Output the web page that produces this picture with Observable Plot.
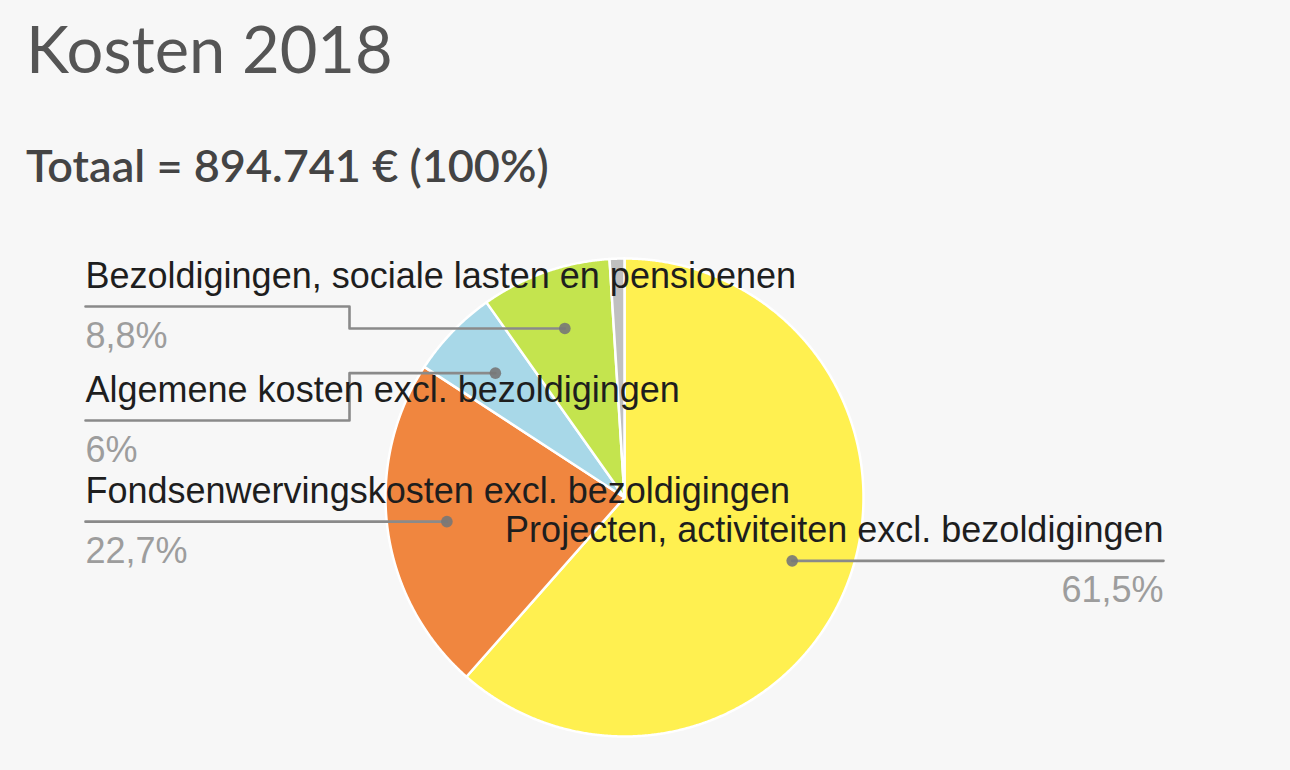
<!DOCTYPE html>
<html><head><meta charset="utf-8">
<script src="https://cdn.jsdelivr.net/npm/d3@7"></script>
<script src="https://cdn.jsdelivr.net/npm/@observablehq/plot@0.6"></script>
<style>
html,body{margin:0;padding:0;background:#f7f7f7;}
#header{position:relative;height:220px;width:1290px;}
#title{position:absolute;left:26px;top:8px;font-family:Lato,"Open Sans",sans-serif;font-size:65px;color:#555;line-height:80px;white-space:nowrap;}
#subtitle{position:absolute;left:26px;top:135px;font-family:Lato,"Open Sans",sans-serif;font-weight:600;font-size:45px;color:#444;line-height:60px;white-space:nowrap;}
#chart svg{display:block;}
</style></head><body>
<div id="header"><div id="title">Kosten 2018</div><div id="subtitle">Totaal = 894.741 € (100%)</div></div>
<div id="chart"></div>
<script>
// ---- data ----
const categories = [
  "Projecten, activiteiten excl. bezoldigingen",
  "Fondsenwervingskosten excl. bezoldigingen",
  "Algemene kosten excl. bezoldigingen",
  "Bezoldigingen, sociale lasten en pensioenen",
  "Overige"
];
const shares = [61.5, 22.7, 6.0, 8.8, 1.0];
const shareLabels = ["61,5%", "22,7%", "6%", "8,8%", ""];
const colors = ["#fff050", "#f0863f", "#a8d8e8", "#c4e44e", "#c0c0c0"];

// ---- layout (pixels) ----
const W = 1290, H = 550, CX = 624, CY = 277, R = 239;
const toY = py => (CY - py) / R;          // svg pixel y -> data y
const leftX = (85 - CX) / R, rightX = (1163 - CX) / R, elbowX = (349 - CX) / R;
// leader layout per category: side, fixed underline y (null = same as dot)
const leaderSide = ["right", "left", "left", "left", null];
const leaderLineY = [null, null, toY(200), toY(86), null];

// ---- build tables ----
const rows = categories.map((c, i) => ({key: c, share: shares[i], label: shareLabels[i]}));
const arcs = d3.pie().sort(null).value(d => d.share).startAngle(0).endAngle(2 * Math.PI)(rows);

const slicePts = [];
arcs.forEach(a => {
  const k = a.data.key;
  slicePts.push({key: k, x: 0, y: 0});
  const n = Math.max(2, Math.ceil((a.endAngle - a.startAngle) / 0.005));
  for (let j = 0; j <= n; j++) {
    const t = a.startAngle + (a.endAngle - a.startAngle) * j / n;
    slicePts.push({key: k, x: Math.sin(t), y: Math.cos(t)});
  }
  slicePts.push({key: k, x: 0, y: 0});
});

const dots = [], leaderPts = [], labelRows = [];
arcs.forEach((a, i) => {
  const side = leaderSide[i];
  if (!side) return;
  const m = (a.startAngle + a.endAngle) / 2;
  const dx = 0.75 * Math.sin(m), dy = 0.75 * Math.cos(m);
  const k = a.data.key;
  dots.push({key: k, x: dx, y: dy});
  const ly = leaderLineY[i] == null ? dy : leaderLineY[i];
  const endX = side === "left" ? leftX : rightX;
  leaderPts.push({key: k, x: dx, y: dy});
  if (leaderLineY[i] != null) {
    leaderPts.push({key: k, x: elbowX, y: dy});
    leaderPts.push({key: k, x: elbowX, y: ly});
  }
  leaderPts.push({key: k, x: endX, y: ly});
  labelRows.push({key: k, side, x: endX, y: ly, pct: a.data.label});
});

const font = "'Liberation Sans', Arial, sans-serif";
const chart = Plot.plot({
  width: W, height: H,
  margin: 0,
  style: {background: "#f7f7f7", overflow: "visible"},
  x: {domain: [-CX / R, (W - CX) / R], range: [0, W], axis: null},
  y: {domain: [-(H - CY) / R, CY / R], range: [H, 0], axis: null},
  color: {domain: categories, range: colors},
  marks: [
    Plot.line(slicePts, {x: "x", y: "y", z: "key", fill: "key", stroke: "white", strokeWidth: 2.5, strokeLinejoin: "round"}),
    Plot.line(leaderPts, {x: "x", y: "y", z: "key", stroke: "#8a8a8a", strokeWidth: 2.6}),
    Plot.dot(dots, {x: "x", y: "y", r: 5.8, fill: "#777", fillOpacity: 0.9}),
    Plot.text(labelRows.filter(d => d.side === "left"), {x: "x", y: "y", text: "key", textAnchor: "start", lineAnchor: "bottom", dy: -19, fontSize: 36, fontFamily: font, fill: "#1e1e1e"}),
    Plot.text(labelRows.filter(d => d.side === "right"), {x: "x", y: "y", text: "key", textAnchor: "end", lineAnchor: "bottom", dy: -19, fontSize: 36, fontFamily: font, fill: "#1e1e1e"}),
    Plot.text(labelRows.filter(d => d.side === "left"), {x: "x", y: "y", text: "pct", textAnchor: "start", lineAnchor: "bottom", dy: 41, fontSize: 36, fontFamily: font, fill: "#9d9d9d"}),
    Plot.text(labelRows.filter(d => d.side === "right"), {x: "x", y: "y", text: "pct", textAnchor: "end", lineAnchor: "bottom", dy: 41, fontSize: 36, fontFamily: font, fill: "#9d9d9d"})
  ]
});
document.getElementById("chart").appendChild(chart);
</script>
</body></html>
